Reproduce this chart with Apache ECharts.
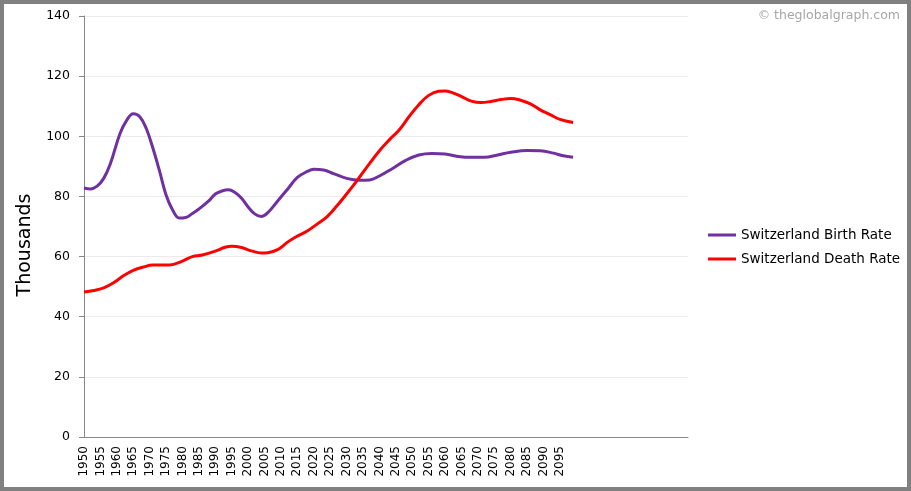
<!DOCTYPE html>
<html>
<head>
<meta charset="utf-8">
<script src="https://cdn.jsdelivr.net/npm/echarts@6/dist/echarts.min.js"></script>
<style>
    html, body { margin: 0; padding: 0; background: #fff; }
    #chart { position: absolute; left: 0; top: 0; width: 911px; height: 491px; }
    #frame { position: absolute; left: 0; top: 0; width: 911px; height: 491px;
             box-sizing: border-box; border: 4px solid #808080; pointer-events: none; }
</style>
</head>
<body>
<div id="chart"></div>
<div id="frame"></div>
<script>
// birth rate, thousands
var birthYears = [1950, 1952, 1954, 1956, 1958, 1961, 1963, 1965, 1967, 1969, 1971, 1973, 1975, 1977, 1979,
    1981, 1983, 1985, 1988, 1990, 1992, 1994, 1996, 1998, 2000, 2002, 2004, 2006, 2009, 2012, 2015, 2018,
    2020, 2023, 2026, 2030, 2034, 2037, 2040, 2044, 2048, 2052, 2056, 2060, 2064, 2068, 2072, 2076, 2080,
    2085, 2089, 2093, 2096, 2099];
var birthValues = [82.8, 82.5, 83.4, 86.0, 90.8, 101.0, 105.3, 107.5, 106.5, 102.5, 96.0, 88.5, 80.5, 75.5, 72.8,
    73.0, 74.3, 75.8, 78.5, 80.8, 81.8, 82.2, 81.3, 79.4, 76.5, 74.2, 73.3, 74.6, 78.5, 82.4, 86.3, 88.3,
    89.0, 88.8, 87.6, 86.0, 85.4, 85.5, 86.8, 89.3, 92.0, 93.8, 94.3, 94.1, 93.3, 93.0, 93.0, 93.8, 94.7,
    95.3, 95.2, 94.4, 93.5, 93.0];

// death rate, thousands
var deathYears = [1950, 1953, 1956, 1959, 1962, 1965, 1968, 1971, 1976, 1980, 1983, 1986, 1990, 1993, 1995,
    1998, 2001, 2004, 2006, 2009, 2012, 2015, 2018, 2021, 2024, 2027, 2030, 2033, 2036, 2040, 2043, 2046,
    2049, 2052, 2055, 2058, 2060, 2062, 2065, 2068, 2071, 2074, 2077, 2080, 2083, 2086, 2089, 2092, 2095, 2099];
var deathValues = [48.2, 48.7, 49.6, 51.3, 53.6, 55.4, 56.5, 57.2, 57.2, 58.5, 60.0, 60.5, 61.8, 63.1, 63.4,
    63.0, 61.9, 61.2, 61.3, 62.3, 64.8, 66.8, 68.5, 70.8, 73.2, 76.8, 80.8, 85.0, 89.5, 95.2, 98.8, 102.1,
    106.5, 110.5, 113.6, 115.0, 115.1, 114.6, 113.2, 111.7, 111.2, 111.6, 112.2, 112.6, 112.0, 110.8, 108.8,
    107.2, 105.6, 104.6];

var seriesNames = ['Switzerland Birth Rate', 'Switzerland Death Rate'];
var seriesColors = ['#7030a0', '#ff0000'];
var yTicks = [0, 20, 40, 60, 80, 100, 120, 140];
var lastYearLabel = 2095;

function pairs(xs, ys) {
    var out = [];
    for (var i = 0; i < xs.length; i++) {
        out.push([xs[i], ys[i]]);
    }
    return out;
}

var chart = echarts.init(document.getElementById('chart'));
var font = 'DejaVu Sans, Verdana, sans-serif';

var option = {
    animation: false,
    backgroundColor: '#fff',
    grid: {left: 84, right: 223, top: 16, bottom: 54},
    legend: {
        orient: 'vertical',
        left: 703,
        top: 223,
        icon: 'rect',
        itemWidth: 28,
        itemHeight: 3,
        itemGap: 10,
        data: seriesNames,
        textStyle: {fontFamily: font, fontSize: 13.5, color: '#000'}
    },
    graphic: [
        {
            type: 'text',
            right: 11,
            top: 9,
            style: {text: '\u00a9 theglobalgraph.com', fill: '#a6a6a6', font: '12.5px ' + font}
        },
        {
            // axis title, placed lower than the grid middle like the original
            type: 'text',
            x: 25,
            y: 245,
            rotation: Math.PI / 2,
            style: {
                text: 'Thousands',
                fill: '#000',
                font: '19px ' + font,
                align: 'center',
                verticalAlign: 'middle'
            }
        }
    ],
    xAxis: {
        type: 'value',
        min: 1950,
        max: 2134,
        interval: 5,
        splitLine: {show: false},
        axisLine: {show: true, onZero: false, lineStyle: {color: '#888', width: 1}},
        axisTick: {show: false},
        axisLabel: {
            rotate: 90,
            margin: 9,
            fontFamily: font,
            fontSize: 12,
            color: '#000',
            showMaxLabel: false,
            formatter: function (v) {
                return v <= lastYearLabel ? String(v) : '';
            }
        }
    },
    yAxis: {
        type: 'value',
        min: yTicks[0],
        max: yTicks[yTicks.length - 1],
        interval: 20,
        axisLine: {show: true, lineStyle: {color: '#888', width: 1}},
        axisTick: {show: true, length: 5, lineStyle: {color: '#888'}},
        axisLabel: {margin: 14, fontFamily: font, fontSize: 12.5, color: '#000'},
        splitLine: {lineStyle: {color: '#ebebeb', width: 1}}
    },
    series: [
        {
            name: seriesNames[0],
            type: 'line',
            smooth: 0.4,
            showSymbol: false,
            color: seriesColors[0],
            lineStyle: {width: 3},
            data: pairs(birthYears, birthValues)
        },
        {
            name: seriesNames[1],
            type: 'line',
            smooth: 0.4,
            showSymbol: false,
            color: seriesColors[1],
            lineStyle: {width: 3},
            data: pairs(deathYears, deathValues)
        }
    ]
};

chart.setOption(option);
</script>
</body>
</html>
